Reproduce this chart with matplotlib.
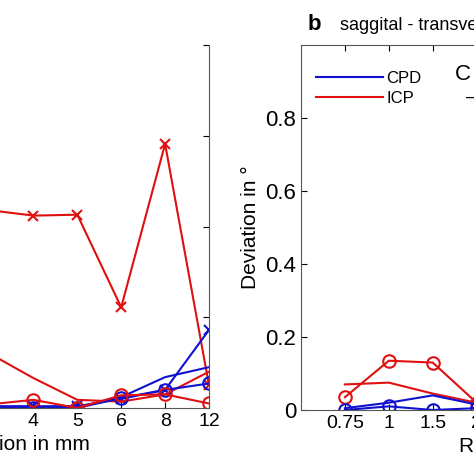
import matplotlib.pyplot as plt

plt.rcParams['font.family'] = ['Liberation Sans', 'DejaVu Sans']

res_labels = ['0.75', '1', '1.5', '2', '3', '4', '5', '6', '8', '12']
pos = list(range(1, len(res_labels) + 1))

# panel a (left, mostly cropped)
a_red_x = [2.3, 2.25, 2.2, 2.2, 2.18, 2.12, 2.13, 1.11, 2.91, 0.25]
a_blue_x = [0.02, 0.02, 0.02, 0.02, 0.02, 0.02, 0.02, 0.1, 0.2, 0.86]
a_red_line = [0.9, 0.85, 0.8, 0.7, 0.6, 0.33, 0.09, 0.07, 0.15, 0.4]
a_blue_line = [0.01, 0.01, 0.01, 0.01, 0.01, 0.01, 0.01, 0.12, 0.34, 0.45]
a_red_o = [0.05, 0.06, 0.06, 0.05, 0.04, 0.09, 0.0, 0.14, 0.15, 0.05]
a_blue_o = [0.0, 0.0, 0.0, 0.0, 0.0, 0.0, 0.0, 0.11, 0.2, 0.27]

# panel b (right)
b_pos = [1, 2, 3, 4]
b_labels = ['0.75', '1', '1.5', '2']
b_red_o = [0.035, 0.135, 0.13, 0.02]
b_red_line = [0.07, 0.075, 0.045, 0.02]
b_blue_line = [0.005, 0.02, 0.04, 0.015]
b_blue_o = [0.0, 0.01, 0.0, 0.005]

RED = '#e01010'
BLUE = '#1010d0'
W = H = 474.0

fig = plt.figure(figsize=(4.74, 4.74), dpi=100)

axa = fig.add_axes([-230 / W, 1 - 408 / H, 439 / W, 363 / H])
axa.plot(pos, a_red_x, color=RED, marker='x', ms=7, mew=1.5, lw=1.5)
axa.plot(pos, a_blue_x, color=BLUE, marker='x', ms=7, mew=1.5, lw=1.5)
axa.plot(pos, a_red_line, color=RED, lw=1.5)
axa.plot(pos, a_blue_line, color=BLUE, lw=1.5)
axa.plot(pos, a_blue_o, color=BLUE, marker='o', mfc='none', ms=9, mew=1.5, lw=1.5)
axa.plot(pos, a_red_o, color=RED, marker='o', mfc='none', ms=9, mew=1.5, lw=1.5)
axa.set_xlim(0, 10)
axa.set_ylim(0, 4)
axa.set_yticks([0, 1, 2, 3, 4])
axa.yaxis.set_ticks_position('both')
axa.tick_params(direction='in', labelsize=14, length=4)
axa.set_xticks(pos)
axa.set_xticklabels(res_labels)
axa.set_xlabel('Resolution in mm', fontsize=15)
axa.xaxis.set_label_coords(0.545, -0.075)
axa.spines['top'].set_visible(False)
for s in axa.spines.values():
    s.set_color('#555555')

axb = fig.add_axes([301 / W, 1 - 410 / H, 439 / W, 365 / H])
axb.plot(b_pos, b_red_o, color=RED, marker='o', mfc='none', ms=9, mew=1.5, lw=1.5)
axb.plot(b_pos, b_red_line, color=RED, lw=1.5)
axb.plot(b_pos, b_blue_line, color=BLUE, lw=1.5)
axb.plot(b_pos, b_blue_o, color=BLUE, marker='o', mfc='none', ms=9, mew=1.5, lw=1.5)
axb.set_xlim(0, 10)
axb.set_ylim(0, 1)
axb.set_yticks([0, 0.2, 0.4, 0.6, 0.8])
axb.set_yticklabels(['0', '0.2', '0.4', '0.6', '0.8'])
axb.set_xticks(b_pos)
axb.set_xticklabels(b_labels)
axb.xaxis.set_ticks_position('both')
axb.tick_params(direction='in', labelsize=14, length=4)
axb.tick_params(axis='y', labelsize=16)
axb.set_ylabel('Deviation in °', fontsize=15)
axb.set_xlabel('Resolution in mm', fontsize=15)
axb.xaxis.set_label_coords(0.545, -0.075)
for s in axb.spines.values():
    s.set_color('#555555')

l1, = axb.plot([], [], color=BLUE, lw=1.5, label='CPD')
l2, = axb.plot([], [], color=RED, lw=1.5, label='ICP')
axb.legend(handles=[l1, l2], loc='upper left', bbox_to_anchor=(0.0, 0.97),
           frameon=False, fontsize=12, handlelength=4.0, handletextpad=0.2,
           labelspacing=0.3)

fig.text(308 / W, 1 - 25 / H, 'b', fontsize=16, fontweight='bold', va='center')
fig.text(340 / W, 1 - 25 / H, 'saggital - transversal', fontsize=13, va='center')
fig.text(455 / W, 1 - 75 / H, 'C', fontsize=16, va='center')
fig.text(466 / W, 1 - 97 / H, '\u2013', fontsize=14, va='center')

fig.savefig('out.png', dpi=100)
